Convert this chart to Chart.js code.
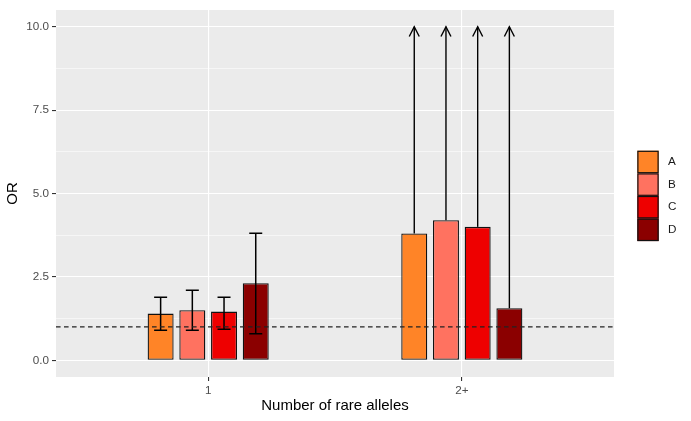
<!DOCTYPE html>
<html><head><meta charset="utf-8">
<script src="https://cdn.jsdelivr.net/npm/chart.js@4.4.1/dist/chart.umd.min.js"></script>
<style>html,body{margin:0;padding:0;background:#fff;}canvas{display:block;}</style>
</head><body>
<canvas id="c" width="691" height="421"></canvas>
<script>
// ---- data ----
const categories = ['1', '2+'];
const seriesNames = ['A', 'B', 'C', 'D'];
const seriesColors = ['#FF8427', '#FF7260', '#EE0000', '#8B0000'];
const orA = [1.40, 3.80];
const orB = [1.50, 4.20];
const orC = [1.46, 4.00];
const orD = [2.31, 1.56];
// confidence limits; null upper = beyond the axis (drawn as an arrow up to arrowTo)
const lowA = [0.90, null];
const lowB = [0.90, null];
const lowC = [0.93, null];
const lowD = [0.80, null];
const highA = [1.89, null];
const highB = [2.10, null];
const highC = [1.89, null];
const highD = [3.81, null];
const arrowTo = 10;
const refLine = 1;
const yMajorTicks = [0, 2.5, 5, 7.5, 10];
const yMinorTicks = [1.25, 3.75, 6.25, 8.75];
const xTitle = 'Number of rare alleles';
const yTitle = 'OR';

const orVals = [orA, orB, orC, orD];
const lowVals = [lowA, lowB, lowC, lowD];
const highVals = [highA, highB, highC, highD];

const FONT = '"Liberation Sans", Arial, sans-serif';

const datasets = seriesNames.map((name, s) => ({
  label: name,
  data: categories.map((c, i) => ({ x: i + 1, y: orVals[s][i] })),
  backgroundColor: seriesColors[s],
  borderColor: '#111111',
  borderWidth: 1.3,
  borderSkipped: false,
  categoryPercentage: 0.5,
  barPercentage: 0.82
}));

const overlay = {
  id: 'overlay',
  beforeDraw(chart) {
    const ctx = chart.ctx, a = chart.chartArea;
    ctx.save();
    ctx.fillStyle = '#ffffff';
    ctx.fillRect(0, 0, chart.width, chart.height);
    ctx.fillStyle = '#EBEBEB';
    ctx.fillRect(a.left, a.top, a.right - a.left, a.bottom - a.top);
    ctx.restore();
  },
  afterDatasetsDraw(chart) {
    const ctx = chart.ctx, a = chart.chartArea;
    const y = chart.scales.y;
    ctx.save();
    ctx.strokeStyle = '#000000';
    ctx.lineCap = 'butt';
    seriesNames.forEach((n, s) => {
      const meta = chart.getDatasetMeta(s);
      meta.data.forEach((bar, i) => {
        const x = bar.x, half = bar.width * 0.25;
        const lo = lowVals[s][i], hi = highVals[s][i];
        if (hi !== null) {
          const py1 = y.getPixelForValue(lo), py2 = y.getPixelForValue(hi);
          ctx.lineWidth = 1.5;
          ctx.beginPath();
          ctx.moveTo(x, py1); ctx.lineTo(x, py2);
          ctx.moveTo(x - half, py1); ctx.lineTo(x + half, py1);
          ctx.moveTo(x - half, py2); ctx.lineTo(x + half, py2);
          ctx.stroke();
        } else {
          const py1 = y.getPixelForValue(orVals[s][i]);
          const py2 = y.getPixelForValue(arrowTo);
          ctx.lineWidth = 1.4;
          ctx.beginPath();
          ctx.moveTo(x, py1); ctx.lineTo(x, py2);
          ctx.stroke();
          const L = 11, ang = 27 * Math.PI / 180;
          ctx.beginPath();
          ctx.moveTo(x - L * Math.sin(ang), py2 + L * Math.cos(ang));
          ctx.lineTo(x, py2);
          ctx.lineTo(x + L * Math.sin(ang), py2 + L * Math.cos(ang));
          ctx.stroke();
        }
      });
    });
    // reference line
    const ry = y.getPixelForValue(refLine);
    ctx.strokeStyle = '#222222';
    ctx.lineWidth = 1.3;
    ctx.setLineDash([4.6, 3.4]);
    ctx.beginPath();
    ctx.moveTo(a.left, ry); ctx.lineTo(a.right, ry);
    ctx.stroke();
    ctx.restore();
  },
  afterDraw(chart) {
    const ctx = chart.ctx;
    ctx.save();
    const kx = 637.3, ky = 150.7, kw = 21.4, kh = 22.6;
    seriesNames.forEach((n, s) => {
      const top = ky + s * kh;
      ctx.fillStyle = seriesColors[s];
      ctx.fillRect(kx, top, kw, kh);
      ctx.strokeStyle = '#111111';
      ctx.lineWidth = 1.2;
      ctx.strokeRect(kx + 0.6, top + 0.6, kw - 1.2, kh - 1.2);
      ctx.fillStyle = '#1A1A1A';
      ctx.font = '11.7px ' + FONT;
      ctx.textAlign = 'left';
      ctx.textBaseline = 'middle';
      ctx.fillText(n, 668, top + kh / 2);
    });
    ctx.restore();
  }
};

new Chart(document.getElementById('c'), {
  type: 'bar',
  data: { datasets },
  options: {
    responsive: false,
    devicePixelRatio: 1,
    animation: false,
    events: [],
    layout: { padding: { left: 0, right: 77, top: 7, bottom: 0 } },
    plugins: { legend: { display: false }, tooltip: { enabled: false } },
    scales: {
      x: {
        type: 'linear',
        min: 0.4, max: 2.6,
        offset: false,
        afterBuildTicks: s => { s.ticks = categories.map((c, i) => ({ value: i + 1 })); },
        afterFit: s => { s.height = 44; },
        border: { display: false },
        grid: { offset: false, color: '#ffffff', lineWidth: 1.1, tickColor: '#333333', tickLength: 4, tickWidth: 1.1 },
        ticks: {
          autoSkip: false, maxRotation: 0, padding: 2.5,
          color: '#4D4D4D', font: { family: FONT, size: 11.7 },
          callback: v => categories[Math.round(v) - 1]
        },
        title: { display: true, text: xTitle, color: '#000000', font: { family: FONT, size: 15 }, padding: { top: 0, bottom: 6.5 } }
      },
      y: {
        type: 'linear',
        min: -0.5, max: 10.5,
        afterBuildTicks: s => {
          s.ticks = [...yMajorTicks, ...yMinorTicks].sort((p, q) => p - q).map(v => ({ value: v }));
        },
        afterFit: s => { s.width = 56; },
        border: { display: false },
        grid: {
          color: '#ffffff',
          lineWidth: c => yMajorTicks.includes(c.tick.value) ? 1.1 : 0.55,
          tickColor: c => yMajorTicks.includes(c.tick.value) ? '#333333' : 'rgba(0,0,0,0)',
          tickLength: 4, tickWidth: 1.1
        },
        ticks: {
          autoSkip: false, padding: 3,
          color: '#4D4D4D', font: { family: FONT, size: 11.7 },
          callback: v => yMajorTicks.includes(v) ? v.toFixed(1) : ''
        },
        title: { display: true, text: yTitle, color: '#000000', font: { family: FONT, size: 15 }, padding: { top: 4, bottom: 0 } }
      }
    }
  },
  plugins: [overlay]
});
</script>
</body></html>
